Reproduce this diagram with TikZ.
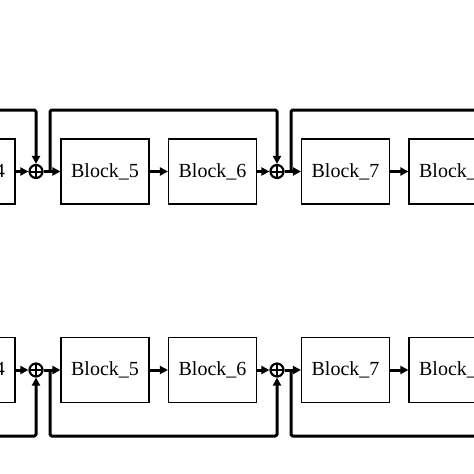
\documentclass[tikz,border=0pt]{standalone}
\usepackage{fontspec}
\setmainfont{Liberation Serif}
\usetikzlibrary{arrows.meta}
\begin{document}
\begin{tikzpicture}[x=1pt,y=-1pt,
 blk/.style={draw,line width=1.1pt,minimum width=88pt,minimum height=65pt,inner sep=0pt,font=\fontsize{20}{24}\selectfont},
 sumnode/.style={circle,draw,line width=2.2pt,minimum size=13pt,inner sep=0pt,
   path picture={\draw[line width=2pt] (path picture bounding box.north) -- (path picture bounding box.south) (path picture bounding box.west) -- (path picture bounding box.east);}},
 conn/.style={line width=3pt,line join=round,rounded corners=1.5pt,-{Triangle[length=8pt,width=8pt]}},
 plainline/.style={line width=3pt,line join=round,rounded corners=1.5pt}]
\useasboundingbox (0,0) rectangle (474,474);
\clip (0,0) rectangle (474,474);
% top row
\node[blk] (b4) at (-29,171.5) {Block\_4};
\node[sumnode] (s1) at (36,171.5) {};
\node[blk] (b5) at (105,171.5) {Block\_5};
\node[blk] (b6) at (212.5,171.5) {Block\_6};
\node[sumnode] (s2) at (277,171.5) {};
\node[blk] (b7) at (345.5,171.5) {Block\_7};
\node[blk] (b8) at (453,171.5) {Block\_8};
\draw[conn] (b4) -- (s1);
\draw[conn] (s1) -- (b5);
\draw[conn] (b5) -- (b6);
\draw[conn] (b6) -- (s2);
\draw[conn] (s2) -- (b7);
\draw[conn] (b7) -- (b8);
\coordinate (t0) at (-5,110);
\coordinate (j1) at (50,171.5);
\coordinate (j2) at (291,171.5);
\coordinate (t1) at (480,110);
\draw[conn] (t0) -| (s1);
\draw[conn] (j1) -- ++(0,-61.5) -| (s2);
\draw[plainline] (j2) |- (t1);
% bottom row
\node[blk] (c4) at (-29,370) {Block\_4};
\node[sumnode] (r1) at (36,370) {};
\node[blk] (c5) at (105,370) {Block\_5};
\node[blk] (c6) at (212.5,370) {Block\_6};
\node[sumnode] (r2) at (277,370) {};
\node[blk] (c7) at (345.5,370) {Block\_7};
\node[blk] (c8) at (453,370) {Block\_8};
\draw[conn] (c4) -- (r1);
\draw[conn] (r1) -- (c5);
\draw[conn] (c5) -- (c6);
\draw[conn] (c6) -- (r2);
\draw[conn] (r2) -- (c7);
\draw[conn] (c7) -- (c8);
\coordinate (u0) at (-5,436);
\coordinate (k1) at (50,370);
\coordinate (k2) at (291,370);
\coordinate (u1) at (480,436);
\draw[conn] (u0) -| (r1);
\draw[conn] (k1) -- ++(0,66) -| (r2);
\draw[plainline] (k2) |- (u1);
\end{tikzpicture}
\end{document}
